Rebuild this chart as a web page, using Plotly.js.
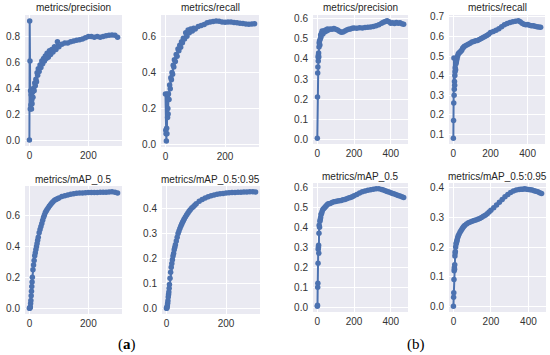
<!DOCTYPE html>
<html><head><meta charset="utf-8">
<script src="https://cdn.plot.ly/plotly-3.0.1.min.js"></script>
<style>html,body{margin:0;padding:0;background:#fff}#chart{width:550px;height:355px}</style>
</head><body><div id="chart"></div>
<script>
const panelTitles = ["metrics/precision","metrics/recall","metrics/precision","metrics/recall",
                     "metrics/mAP_0.5","metrics/mAP_0.5:0.95","metrics/mAP_0.5","metrics/mAP_0.5:0.95"];
const groupLabels = ["(<b>a</b>)", "(b)"];

const aEpochs = [0,1,2,3,4,5,6,7,8,9,10,12,14,16,18,20,22,24,26,28,30,33,36,39,42,45,48,51,54,57,60,64,68,72,76,80,85,90,95,100,110,120,130,140,150,160,170,180,190,200,210,220,230,240,250,260,270,280,290,299];
const aPrecision = [0.0,0.92,0.61,0.24,0.38,0.27,0.35,0.24,0.31,0.28,0.37,0.33,0.40,0.38,0.44,0.42,0.47,0.45,0.52,0.50,0.55,0.53,0.58,0.56,0.61,0.59,0.63,0.61,0.65,0.63,0.67,0.64,0.69,0.66,0.70,0.68,0.72,0.70,0.76,0.72,0.74,0.75,0.75,0.76,0.765,0.77,0.775,0.78,0.79,0.80,0.80,0.795,0.80,0.795,0.80,0.805,0.81,0.812,0.81,0.795];
const aRecall = [0.28,0.08,0.06,0.02,0.09,0.06,0.28,0.15,0.20,0.17,0.28,0.25,0.33,0.31,0.37,0.36,0.40,0.39,0.44,0.43,0.47,0.46,0.50,0.49,0.53,0.52,0.55,0.54,0.57,0.565,0.59,0.585,0.62,0.60,0.635,0.62,0.64,0.63,0.645,0.64,0.655,0.66,0.665,0.675,0.68,0.682,0.685,0.683,0.68,0.678,0.68,0.679,0.676,0.675,0.673,0.671,0.668,0.667,0.668,0.67];
const aMap50 = [0.0,0.0,0.003,0.01,0.03,0.05,0.08,0.11,0.14,0.17,0.20,0.25,0.28,0.31,0.34,0.36,0.38,0.40,0.42,0.44,0.46,0.49,0.51,0.53,0.55,0.57,0.59,0.605,0.62,0.63,0.64,0.652,0.663,0.673,0.682,0.69,0.70,0.705,0.71,0.715,0.725,0.73,0.735,0.74,0.742,0.745,0.747,0.748,0.749,0.75,0.75,0.751,0.751,0.752,0.753,0.753,0.754,0.755,0.752,0.748];
const aMap5095 = [0.0,0.0,0.005,0.01,0.02,0.03,0.045,0.055,0.065,0.08,0.095,0.12,0.145,0.165,0.18,0.195,0.21,0.22,0.235,0.245,0.255,0.27,0.285,0.30,0.31,0.32,0.33,0.338,0.346,0.353,0.36,0.368,0.376,0.383,0.39,0.396,0.403,0.408,0.414,0.42,0.43,0.437,0.443,0.448,0.452,0.455,0.458,0.46,0.461,0.463,0.464,0.465,0.465,0.466,0.466,0.467,0.467,0.468,0.468,0.467];

const bEpochs = [0,1,2,3,4,5,6,7,8,9,10,12,14,16,18,20,23,26,30,35,40,45,50,55,60,70,80,90,100,110,120,130,140,150,160,170,180,190,200,215,230,245,260,275,290,305,320,335,350,360,370,380,390,400,410,420,430,440,450,460,470];
const bPrecision = [0.005,0.21,0.33,0.36,0.41,0.39,0.42,0.43,0.41,0.46,0.48,0.49,0.47,0.50,0.52,0.51,0.53,0.54,0.525,0.54,0.535,0.545,0.54,0.55,0.545,0.55,0.548,0.552,0.548,0.545,0.538,0.533,0.535,0.54,0.545,0.548,0.55,0.553,0.555,0.553,0.556,0.555,0.557,0.558,0.56,0.562,0.566,0.57,0.578,0.583,0.587,0.59,0.585,0.578,0.58,0.577,0.582,0.578,0.58,0.575,0.573];
const bRecall = [0.08,0.17,0.26,0.49,0.30,0.33,0.37,0.35,0.40,0.42,0.44,0.43,0.46,0.47,0.48,0.49,0.50,0.51,0.515,0.52,0.525,0.53,0.54,0.545,0.55,0.555,0.56,0.565,0.572,0.575,0.578,0.58,0.585,0.59,0.595,0.60,0.605,0.612,0.62,0.625,0.632,0.64,0.65,0.66,0.667,0.672,0.676,0.678,0.68,0.675,0.668,0.663,0.66,0.662,0.658,0.655,0.655,0.652,0.65,0.648,0.647];
const bMap50 = [0.005,0.01,0.10,0.12,0.22,0.29,0.30,0.31,0.27,0.37,0.41,0.40,0.43,0.44,0.45,0.465,0.47,0.48,0.49,0.495,0.50,0.505,0.51,0.515,0.518,0.52,0.525,0.528,0.53,0.532,0.533,0.535,0.538,0.54,0.543,0.547,0.55,0.554,0.558,0.565,0.572,0.578,0.582,0.586,0.589,0.591,0.593,0.593,0.59,0.587,0.584,0.58,0.577,0.574,0.57,0.567,0.563,0.56,0.557,0.554,0.55];
const bMap5095 = [0.0,0.03,0.045,0.09,0.12,0.13,0.125,0.14,0.17,0.18,0.185,0.20,0.21,0.215,0.22,0.225,0.232,0.238,0.243,0.25,0.255,0.26,0.265,0.27,0.273,0.278,0.282,0.285,0.287,0.29,0.292,0.294,0.297,0.30,0.304,0.308,0.313,0.319,0.325,0.333,0.342,0.352,0.361,0.37,0.378,0.385,0.39,0.393,0.395,0.396,0.396,0.397,0.396,0.395,0.394,0.393,0.391,0.389,0.387,0.384,0.381];

const xTickVals = [0,200,400];

const W = 550, H = 355;
// pixel boxes [left,right,top,bottom]
const boxes = [
  [25,122,15,146],[161,259,15,147],[313,408,15,144],[449,545,15,144],
  [25,122,186,314],[162,260,186,314],[313,408,183,312],[449,546,183,312]
];
const series = [
  [aEpochs,aPrecision],[aEpochs,aRecall],[bEpochs,bPrecision],[bEpochs,bRecall],
  [aEpochs,aMap50],[aEpochs,aMap5095],[bEpochs,bMap50],[bEpochs,bMap5095]
];
const yDticks = [0.2,0.2,0.1,0.1,0.2,0.1,0.1,0.1];

const traces = [], layout = {
  width: W, height: H, margin:{l:0,r:0,t:0,b:0},
  paper_bgcolor:'#ffffff', plot_bgcolor:'#EAEAF2', showlegend:false,
  font:{family:'Liberation Sans, Arial, sans-serif', color:'#333333', size:10},
  annotations: []
};
function pad(arr){
  const mn = Math.min(...arr), mx = Math.max(...arr), d = (mx-mn)*0.05;
  return [mn-d, mx+d];
}
series.forEach((s,i)=>{
  const n = i===0 ? '' : String(i+1);
  const b = boxes[i];
  traces.push({x:s[0], y:s[1], type:'scatter', mode:'lines+markers',
    xaxis:'x'+n, yaxis:'y'+n,
    line:{color:'#4C72B0', width:2},
    marker:{color:'#4C72B0', size:5.5}, hoverinfo:'skip'});
  layout['xaxis'+n] = {domain:[b[0]/W, b[1]/W], anchor:'y'+n, range:pad(s[0]),
    tickvals:xTickVals, showgrid:true, gridcolor:'#ffffff', gridwidth:1,
    zeroline:false, showline:false, ticks:'', tickfont:{size:10, color:'#333'}, ticklabelstandoff:2};
  layout['yaxis'+n] = {domain:[1-b[3]/H, 1-b[2]/H], anchor:'x'+n, range:pad(s[1]),
    dtick:yDticks[i], tick0:0, tickformat:'.1f', showgrid:true, gridcolor:'#ffffff', gridwidth:1,
    zeroline:false, showline:false, ticks:'', tickfont:{size:10, color:'#333'}, ticklabelstandoff:4};
  layout.annotations.push({text:panelTitles[i], xref:'paper', yref:'paper',
    x:(b[0]+b[1])/2/W, y:1-(b[2]-7)/H, xanchor:'center', yanchor:'middle', showarrow:false,
    font:{size:10, color:'#262626'}});
});
layout.annotations.push({text:groupLabels[0], xref:'paper', yref:'paper', x:127/W, y:1-344/H,
  xanchor:'center', yanchor:'middle', showarrow:false,
  font:{family:'Liberation Serif, Times New Roman, serif', size:15, color:'#000'}});
layout.annotations.push({text:groupLabels[1], xref:'paper', yref:'paper', x:416/W, y:1-344/H,
  xanchor:'center', yanchor:'middle', showarrow:false,
  font:{family:'Liberation Serif, Times New Roman, serif', size:15, color:'#000'}});

Plotly.newPlot('chart', traces, layout, {displayModeBar:false, staticPlot:true});
</script></body></html>
